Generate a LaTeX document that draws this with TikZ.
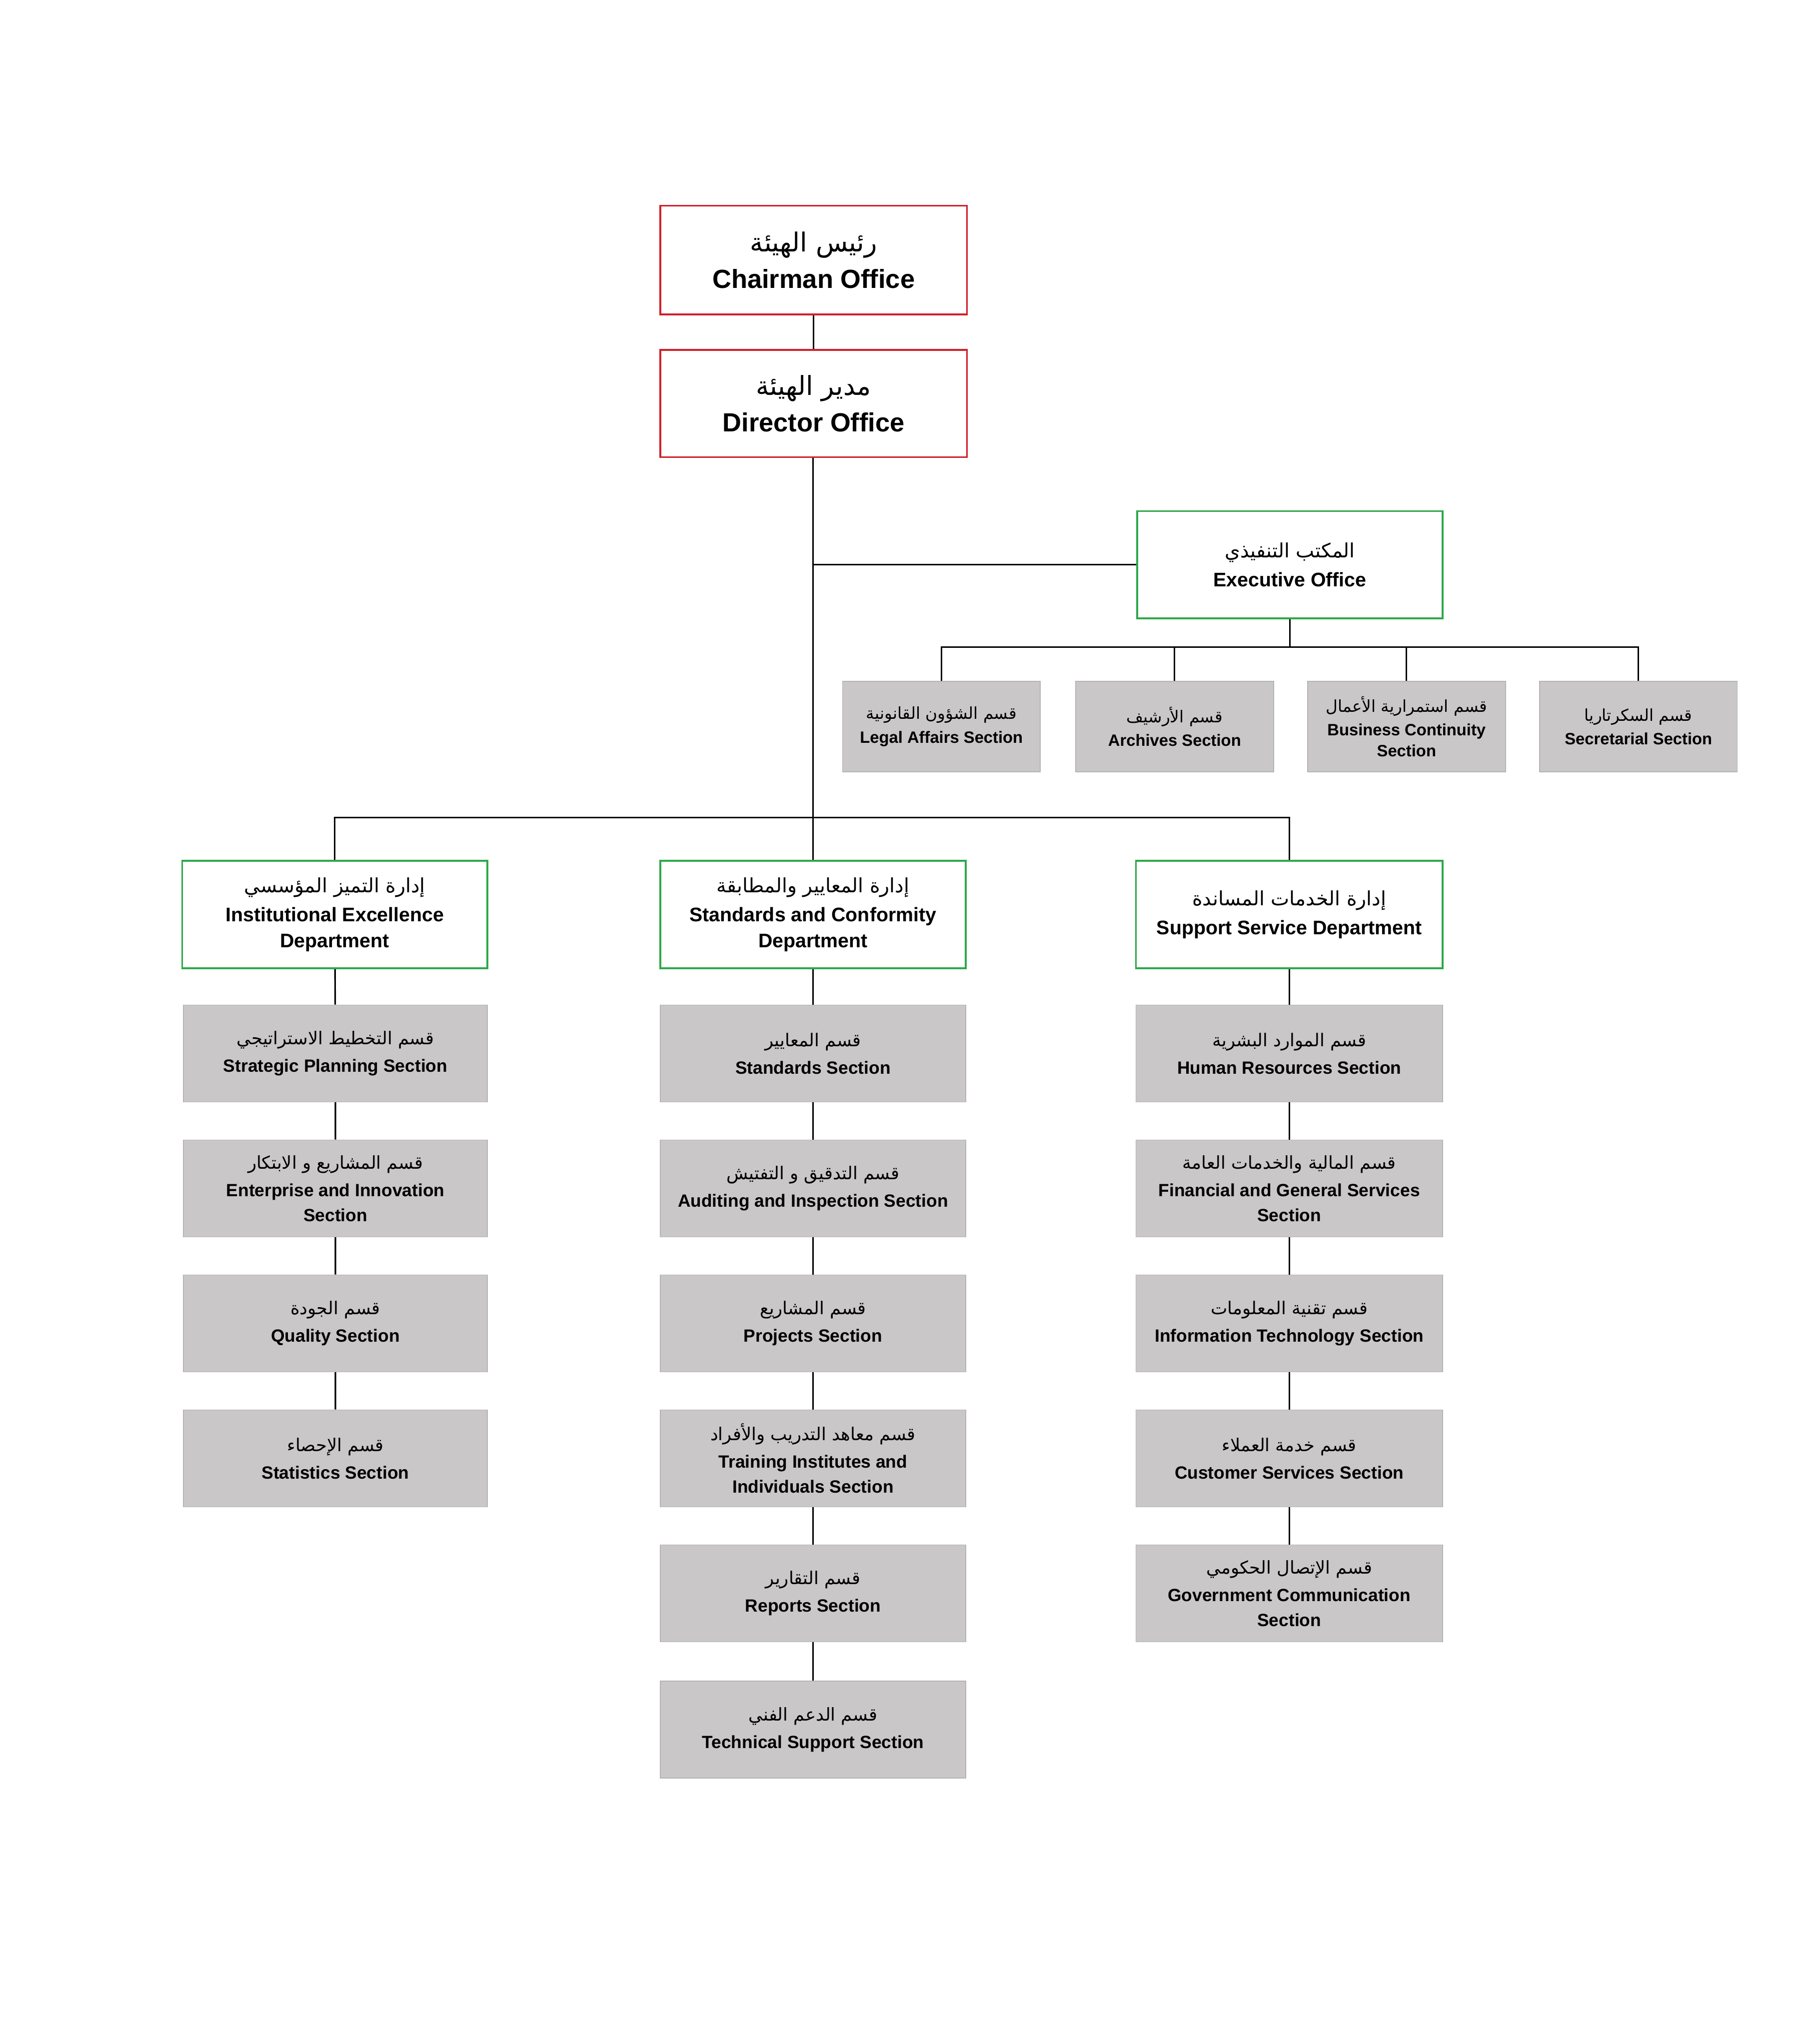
\documentclass[tikz,border=0pt]{standalone}
\usepackage{fontspec}
\setmainfont{Liberation Sans}
\newfontfamily\arfont[Script=Arabic]{DejaVu Sans}
\TeXXeTstate=1
\newcommand\ar[1]{{\arfont\mdseries\beginR #1\endR}}
\definecolor{redb}{HTML}{D0202A}
\definecolor{greenb}{HTML}{2EA84A}
\definecolor{grayf}{HTML}{C9C7C7}
\begin{document}
\begin{tikzpicture}[x=1pt,y=-1pt,
 base/.style={align=center,inner sep=2pt,line width=1.3pt,font=\bfseries},
 top/.style={base,draw=redb,fill=white,font=\bfseries\fontsize{20}{26}\selectfont},
 dep/.style={base,draw=greenb,fill=white,font=\bfseries\fontsize{15}{20}\selectfont},
 sec/.style={base,fill=grayf,draw=grayf!90!black,line width=0.6pt,font=\bfseries\fontsize{13.5}{19}\selectfont},
 sml/.style={base,fill=grayf,draw=grayf!90!black,line width=0.6pt,font=\bfseries\fontsize{12.5}{16}\selectfont},
 ln/.style={line width=1.2pt}]
\useasboundingbox (0,0) rectangle (1386,1560);
\newcommand\nd[8]{\node[#6,minimum width=#4,minimum height=#5] (#1) at (#2,#3) {#7\\[2pt]#8};}
% top
\nd{ch}{621}{198.5}{234}{83}{top}{\ar{رئيس الهيئة}}{Chairman Office}
\nd{dir}{621}{308}{234}{82}{top}{\ar{مدير الهيئة}}{Director Office}
\nd{ex}{984.5}{431}{233}{82}{dep}{\ar{المكتب التنفيذي}}{Executive Office}
% small row
\nd{lg}{718.5}{554.5}{151}{69}{sml}{\ar{قسم الشؤون القانونية}}{Legal Affairs Section}
\nd{arc}{896.5}{554.5}{151}{69}{sml}{\ar{قسم الأرشيف}}{Archives Section}
\nd{bc}{1073.5}{554.5}{151}{69}{sml}{\ar{قسم استمرارية الأعمال}}{Business Continuity\\Section}
\nd{sc}{1250.5}{554.5}{151}{69}{sml}{\ar{قسم السكرتاريا}}{Secretarial Section}
% departments
\nd{d1}{255.5}{698}{233}{82}{dep}{\ar{إدارة التميز المؤسسي}}{Institutional Excellence\\Department}
\nd{d2}{620.5}{698}{233}{82}{dep}{\ar{إدارة المعايير والمطابقة}}{Standards and Conformity\\Department}
\nd{d3}{984}{698}{234}{82}{dep}{\ar{إدارة الخدمات المساندة}}{Support Service Department}
% left col
\nd{l1}{256}{804}{232}{74}{sec}{\ar{قسم التخطيط الاستراتيجي}}{Strategic Planning Section}
\nd{l2}{256}{907}{232}{74}{sec}{\ar{قسم المشاريع و الابتكار}}{Enterprise and Innovation\\Section}
\nd{l3}{256}{1010}{232}{74}{sec}{\ar{قسم الجودة}}{Quality Section}
\nd{l4}{256}{1113}{232}{74}{sec}{\ar{قسم الإحصاء}}{Statistics Section}
% mid col
\nd{m1}{620.5}{804}{233}{74}{sec}{\ar{قسم المعايير}}{Standards Section}
\nd{m2}{620.5}{907}{233}{74}{sec}{\ar{قسم التدقيق و التفتيش}}{Auditing and Inspection Section}
\nd{m3}{620.5}{1010}{233}{74}{sec}{\ar{قسم المشاريع}}{Projects Section}
\nd{m4}{620.5}{1113}{233}{74}{sec}{\ar{قسم معاهد التدريب والأفراد}}{Training Institutes and\\Individuals Section}
\nd{m5}{620.5}{1216}{233}{74}{sec}{\ar{قسم التقارير}}{Reports Section}
\nd{m6}{620.5}{1320}{233}{74}{sec}{\ar{قسم الدعم الفني}}{Technical Support Section}
% right col
\nd{r1}{984}{804}{234}{74}{sec}{\ar{قسم الموارد البشرية}}{Human Resources Section}
\nd{r2}{984}{907}{234}{74}{sec}{\ar{قسم المالية والخدمات العامة}}{Financial and General Services\\Section}
\nd{r3}{984}{1010}{234}{74}{sec}{\ar{قسم تقنية المعلومات}}{Information Technology Section}
\nd{r4}{984}{1113}{234}{74}{sec}{\ar{قسم خدمة العملاء}}{Customer Services Section}
\nd{r5}{984}{1216}{234}{74}{sec}{\ar{قسم الإتصال الحكومي}}{Government Communication\\Section}
% connectors
\coordinate (bus) at (620.5,624);
\coordinate (exj) at (620.5,431);
\coordinate (sbus) at (984.5,494);
\draw[ln] (ch) -- (dir);
\draw[ln] (dir.south -| bus) -- (bus);
\draw[ln] (exj) -- (ex.west);
\draw[ln] (ex.south) -- (sbus);
\draw[ln] (lg.north) |- (sbus) -| (sc.north);
\draw[ln] (arc.north) -- (arc.north |- sbus);
\draw[ln] (bc.north) -- (bc.north |- sbus);
\draw[ln] (d1.north) |- (bus) -| (d3.north);
\draw[ln] (bus) -- (d2.north);
\draw[ln] (d1) -- (l1) -- (l2) -- (l3) -- (l4);
\draw[ln] (d2) -- (m1) -- (m2) -- (m3) -- (m4) -- (m5) -- (m6);
\draw[ln] (d3) -- (r1) -- (r2) -- (r3) -- (r4) -- (r5);
\end{tikzpicture}
\end{document}
